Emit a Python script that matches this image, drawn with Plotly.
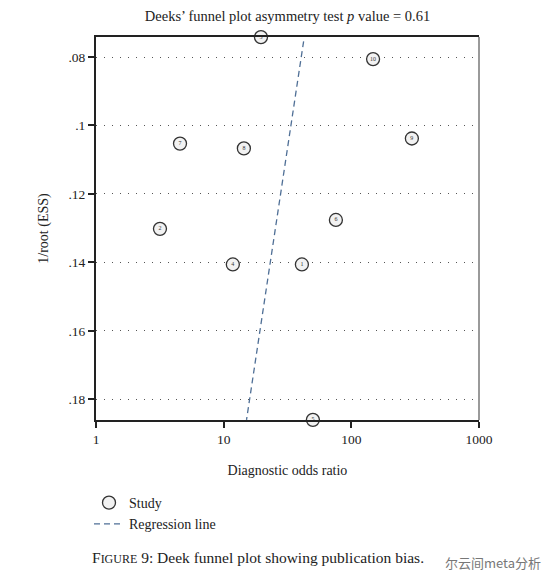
import plotly.graph_objects as go

# Study data
study_ids = ["1", "2", "3", "4", "5", "6", "7", "8", "9", "10"]
dor = [41.0, 3.17, 19.6, 11.8, 50.0, 75.7, 4.55, 14.4, 298.0, 148.0]
inv_root_ess = [0.1406, 0.1302, 0.0742, 0.1406, 0.1860, 0.1276, 0.1053, 0.1067, 0.1038, 0.0806]

# Regression line endpoints
reg_x = [42.3, 15.1]
reg_y = [0.0754, 0.1860]

y_tickvals = [0.08, 0.10, 0.12, 0.14, 0.16, 0.18]
y_ticktext = [".08", ".1", ".12", ".14", ".16", ".18"]
x_tickvals = [1, 10, 100, 1000]
x_ticktext = ["1", "10", "100", "1000"]

SERIF = "Liberation Serif"
W, H = 546, 580
L, T = 88, 29
PW, PH = 383, 383

fig = go.Figure()
fig.add_trace(go.Scatter(
    x=reg_x, y=reg_y, mode="lines", name="Regression line",
    line=dict(color="#4f6f96", width=1.3, dash="6px,4px"),
))
fig.add_trace(go.Scatter(
    x=dor, y=inv_root_ess, mode="markers+text", name="Study",
    text=study_ids, textposition="middle center",
    textfont=dict(size=6, color="#333333", family=SERIF),
    marker=dict(size=13, color="#f2f2f2", line=dict(color="#333333", width=1.3)),
    cliponaxis=False,
))

fig.update_layout(
    width=W, height=H,
    margin=dict(l=L, r=W - L - PW, t=T, b=H - T - PH),
    paper_bgcolor="white", plot_bgcolor="white",
    font=dict(family=SERIF, size=13, color="#222222"),
    title=dict(
        text="Deeks’ funnel plot asymmetry test <i>p</i> value = 0.61",
        x=(L + PW / 2) / W, xanchor="center", y=1 - 8 / H, yanchor="middle",
        font=dict(size=14.5, color="#222222", family=SERIF),
    ),
    showlegend=True,
    legend=dict(
        x=-7 / PW, y=-0.175, xanchor="left", yanchor="top",
        traceorder="reversed",
        font=dict(size=14, family=SERIF, color="#222222"),
        bgcolor="rgba(0,0,0,0)", tracegroupgap=2,
    ),
)

fig.update_xaxes(
    type="log", range=[0, 3],
    tickvals=x_tickvals, ticktext=x_ticktext,
    showgrid=False, zeroline=False,
    showline=True, linecolor="#222222", linewidth=2, mirror=True,
    ticks="outside", ticklen=6, tickwidth=1.5, tickcolor="#222222",
    tickfont=dict(size=13.5, family=SERIF, color="#222222"),
    title=dict(text="Diagnostic odds ratio", standoff=19,
               font=dict(size=14, family=SERIF, color="#222222")),
)
fig.update_yaxes(
    range=[0.18605, 0.07415],
    tickvals=y_tickvals, ticktext=y_ticktext,
    showgrid=True, gridcolor="#555555", gridwidth=1, griddash="1px,7px",
    zeroline=False,
    showline=True, linecolor="#222222", linewidth=2,
    ticks="outside", ticklen=6, tickwidth=1.5, tickcolor="#222222",
    tickfont=dict(size=13.5, family=SERIF, color="#222222"),
    title=dict(text="1/root (ESS)", standoff=17,
               font=dict(size=14, family=SERIF, color="#222222")),
)

# right border in gray
fig.add_shape(type="line", xref="paper", yref="paper", x0=1, x1=1, y0=0, y1=1,
              line=dict(color="#9a9a9a", width=2))

fig.add_annotation(
    text="<span style='font-family:Liberation Serif'>F</span>"
         "<span style='font-size:12px;font-family:Liberation Serif'>IGURE</span>"
         "<span style='font-family:Liberation Serif'> 9: Deek funnel plot showing publication bias.</span>",
    xref="paper", yref="paper", x=(90 - 96) / PW, y=(420 - 557) / PH,
    xanchor="left", yanchor="middle", showarrow=False,
    font=dict(size=15.5, family=SERIF, color="#222222"),
)
fig.add_annotation(
    text="尔云间meta分析",
    xref="paper", yref="paper", x=(543 - 96) / PW, y=(420 - 562) / PH,
    xanchor="right", yanchor="middle", showarrow=False,
    font=dict(size=13, family="Noto Sans CJK SC", color="#777777"),
)

fig.write_html("out.html")
